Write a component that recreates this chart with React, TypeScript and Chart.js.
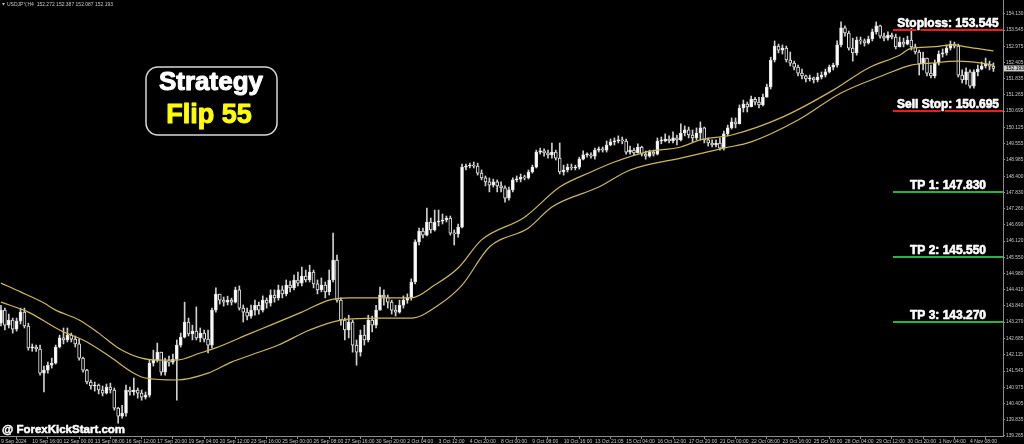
import React, { useEffect, useRef } from 'react';
import { Chart, registerables } from 'chart.js';

Chart.register(...registerables);

// ---------- DATA ----------
const firstOpen = 143.23;

const closes = [
  143.69, 143.16, 143.34, 143.02, 143.30, 143.62, 143.13, 142.36, 142.39, 142.32,
  141.47, 141.58, 141.75, 141.82, 142.39, 142.71, 142.64, 142.81, 142.67, 142.50,
  142.00, 141.58, 141.16, 141.02, 141.05, 140.88, 140.77, 140.98, 140.88, 140.24,
  139.96, 140.06, 140.88, 140.81, 140.88, 140.77, 140.63, 140.70, 141.82, 141.93,
  142.21, 141.51, 141.89, 141.86, 141.96, 142.46, 142.74, 143.27, 142.85, 142.95,
  142.71, 142.88, 142.67, 142.46, 143.69, 144.25, 144.04, 143.97, 144.04, 143.97,
  144.40, 143.76, 143.62, 143.48, 143.69, 143.86, 143.69, 144.04, 143.93, 144.22,
  144.12, 144.40, 144.26, 144.57, 144.47, 144.75, 144.64, 144.89, 144.75, 145.03,
  144.61, 144.40, 144.57, 144.33, 144.75, 145.45, 144.04, 143.34, 142.99, 143.27,
  142.46, 142.21, 142.81, 142.64, 143.34, 143.16, 143.69, 144.22, 144.15, 143.97,
  143.69, 143.62, 143.86, 144.04, 144.12, 144.68, 146.09, 146.47, 146.33, 146.79,
  146.51, 146.79, 146.82, 146.86, 146.93, 146.40, 146.37, 146.61, 148.72, 148.76,
  148.79, 148.76, 148.51, 148.34, 148.20, 148.09, 148.20, 148.06, 147.99, 147.63,
  147.92, 148.27, 148.30, 148.37, 148.34, 148.55, 148.72, 149.25, 149.29, 149.22,
  149.15, 149.25, 149.04, 148.55, 148.62, 148.72, 148.69, 148.72, 149.00, 149.15,
  149.15, 149.11, 149.32, 149.36, 149.32, 149.50, 149.61, 149.64, 149.68, 149.64,
  149.25, 149.32, 149.22, 149.43, 149.18, 149.11, 149.25, 149.18, 149.64, 149.64,
  149.71, 149.64, 149.75, 149.68, 149.92, 150.03, 149.85, 149.75, 149.92, 150.10,
  149.68, 149.57, 149.50, 149.57, 149.39, 149.89, 150.10, 150.31, 150.24, 150.80,
  150.94, 150.84, 151.11, 151.01, 150.91, 151.18, 151.54, 152.49, 152.98, 152.84,
  152.91, 152.49, 152.38, 152.24, 152.03, 151.93, 151.82, 151.86, 151.79, 151.89,
  151.96, 152.07, 152.24, 152.31, 153.02, 153.62, 153.44, 152.91, 152.74, 153.19,
  153.16, 153.09, 153.23, 153.48, 153.69, 153.33, 153.26, 153.37, 153.30, 152.95,
  153.12, 153.05, 153.19, 152.95, 152.77, 152.35, 152.56, 152.03, 151.93, 152.38,
  152.70, 152.74, 152.91, 153.05, 152.98, 151.96, 151.79, 152.07, 151.57, 152.07,
  152.17, 152.28, 152.35, 152.272, 152.193,
];

const highs = [
  143.86, 143.76, 143.55, 143.41, 143.41, 143.76, 143.76, 143.23, 142.50, 142.46,
  142.46, 141.72, 141.86, 142.00, 142.46, 142.81, 143.06, 143.06, 142.88, 142.78,
  142.67, 142.04, 141.61, 141.23, 141.16, 141.09, 141.02, 141.09, 141.12, 140.95,
  140.27, 140.34, 141.05, 140.98, 141.30, 140.95, 140.88, 140.81, 141.93, 142.28,
  142.53, 142.21, 142.00, 142.07, 142.14, 142.64, 142.88, 143.97, 143.41, 143.16,
  143.80, 143.06, 142.99, 142.99, 143.76, 144.47, 144.22, 144.15, 144.18, 144.11,
  144.50, 144.54, 143.87, 143.76, 143.87, 144.04, 143.97, 144.19, 144.12, 144.40,
  144.40, 144.57, 144.54, 144.75, 144.71, 144.92, 145.03, 145.20, 145.10, 145.27,
  145.10, 144.75, 144.82, 144.68, 145.10, 146.40, 145.63, 144.12, 143.41, 143.51,
  143.34, 142.64, 142.99, 143.16, 143.51, 143.48, 143.86, 144.50, 144.40, 144.22,
  144.04, 143.86, 144.04, 144.19, 144.26, 144.79, 146.16, 146.58, 146.58, 147.28,
  146.93, 147.21, 147.21, 147.07, 147.00, 147.00, 146.51, 146.72, 148.83, 148.83,
  148.86, 148.90, 148.86, 148.62, 148.41, 148.34, 148.30, 148.27, 148.20, 148.06,
  148.02, 148.34, 148.41, 148.48, 148.44, 148.62, 148.79, 149.32, 149.39, 149.36,
  149.32, 149.57, 149.32, 149.57, 148.79, 148.83, 148.83, 148.79, 149.07, 149.29,
  149.22, 149.22, 149.39, 149.43, 149.43, 149.64, 149.71, 149.75, 149.82, 149.78,
  149.71, 149.46, 149.39, 149.54, 149.46, 149.29, 149.32, 149.32, 149.75, 149.78,
  149.89, 149.82, 149.96, 149.85, 150.24, 150.17, 150.13, 150.03, 150.10, 150.31,
  150.13, 149.75, 149.68, 149.68, 149.75, 149.99, 150.20, 150.45, 150.45, 150.91,
  151.08, 151.01, 151.22, 151.18, 151.18, 151.29, 151.64, 152.59, 153.16, 153.05,
  153.02, 152.98, 152.77, 152.45, 152.31, 152.17, 151.96, 151.96, 151.89, 152.03,
  152.07, 152.17, 152.31, 152.38, 153.16, 153.83, 153.69, 153.51, 153.26, 153.30,
  153.30, 153.23, 153.33, 153.58, 153.83, 153.72, 153.44, 153.48, 153.44, 153.40,
  153.30, 153.26, 153.33, 153.72, 153.05, 152.84, 152.77, 152.49, 152.31, 152.49,
  152.81, 152.88, 153.02, 153.16, 153.12, 153.05, 152.14, 152.21, 152.14, 152.14,
  152.31, 152.42, 152.56, 152.45, 152.387,
];

const lows = [
  143.13, 142.99, 143.06, 142.88, 142.95, 143.20, 143.06, 142.28, 142.24, 142.24,
  141.40, 140.81, 141.47, 141.65, 141.79, 142.36, 142.50, 142.57, 142.57, 142.39,
  141.93, 141.51, 141.09, 140.91, 140.84, 140.74, 140.67, 140.74, 140.77, 140.17,
  139.71, 139.89, 139.96, 140.70, 140.70, 140.59, 140.52, 140.56, 140.63, 141.72,
  141.86, 141.40, 141.40, 141.72, 141.79, 140.52, 142.39, 142.71, 142.78, 142.64,
  142.64, 142.57, 142.57, 142.18, 142.36, 143.62, 143.90, 143.83, 143.87, 143.87,
  143.94, 143.69, 143.27, 143.34, 143.41, 143.51, 143.55, 143.62, 143.76, 143.83,
  143.97, 144.04, 144.12, 144.19, 144.33, 144.40, 144.54, 144.54, 144.68, 144.68,
  144.47, 144.26, 144.33, 144.12, 144.22, 144.68, 143.97, 143.16, 142.64, 142.71,
  142.21, 141.75, 142.07, 142.46, 142.57, 142.92, 143.06, 143.80, 143.86, 143.76,
  143.55, 143.48, 143.58, 143.76, 143.93, 144.04, 144.61, 145.98, 146.23, 146.30,
  146.40, 146.47, 146.65, 146.72, 146.79, 146.33, 145.98, 146.26, 146.58, 148.62,
  148.69, 148.69, 148.44, 148.27, 148.06, 147.85, 148.02, 147.85, 147.85, 147.49,
  147.56, 147.85, 148.20, 148.20, 148.27, 148.30, 148.51, 148.69, 149.18, 149.11,
  149.04, 149.04, 148.97, 148.48, 148.44, 148.55, 148.62, 148.62, 148.65, 148.97,
  149.07, 149.04, 149.00, 149.25, 149.25, 149.25, 149.47, 149.50, 149.57, 149.54,
  149.18, 149.18, 149.15, 149.25, 149.11, 149.00, 149.07, 149.11, 149.15, 149.54,
  149.61, 149.57, 149.57, 149.50, 149.64, 149.82, 149.75, 149.61, 149.68, 149.68,
  149.57, 149.46, 149.43, 149.43, 149.32, 149.32, 149.82, 150.06, 150.10, 150.24,
  150.66, 150.66, 150.84, 150.91, 150.80, 150.87, 151.18, 151.47, 152.42, 152.74,
  152.70, 152.42, 152.28, 152.14, 151.93, 151.82, 151.72, 151.75, 151.68, 151.72,
  151.82, 151.89, 152.03, 152.14, 152.24, 152.95, 153.33, 152.84, 152.45, 152.66,
  153.05, 152.98, 153.05, 153.16, 153.40, 153.26, 153.16, 153.19, 153.23, 152.88,
  152.98, 152.95, 153.02, 152.84, 152.70, 151.96, 152.14, 151.93, 151.86, 151.86,
  152.31, 152.59, 152.66, 152.84, 152.91, 151.89, 151.68, 151.64, 151.50, 151.50,
  151.93, 152.14, 152.21, 152.14, 152.087,
];

// moving-average envelope (bar index, price) read at sample points
const upperMaBars = [0, 5, 11, 14, 20, 25, 30, 36, 41, 45, 51, 55, 64, 69, 77, 84, 89, 97, 105, 111, 117, 123, 134, 143, 151, 157, 165, 174, 179, 187, 200, 213, 222, 230, 233, 238, 244, 247, 254];
const upperMaVals = [144.64, 144.33, 143.94, 143.69, 143.34, 142.88, 142.36, 142.00, 141.93, 141.93, 142.18, 142.36, 142.88, 143.16, 143.62, 144.04, 144.12, 144.12, 144.12, 144.57, 145.17, 146.16, 146.96, 148.02, 148.55, 148.90, 149.25, 149.43, 149.68, 149.85, 150.48, 151.43, 152.21, 152.66, 152.91, 152.95, 153.02, 152.95, 152.81];
const lowerMaBars = [0, 7, 15, 22, 28, 34, 37, 45, 53, 59, 64, 71, 79, 87, 97, 105, 112, 118, 125, 135, 141, 153, 161, 174, 185, 192, 204, 215, 226, 233, 238, 245, 251, 254];
const lowerMaVals = [143.97, 143.62, 142.99, 142.57, 142.04, 141.47, 141.30, 141.23, 141.47, 141.86, 142.11, 142.46, 142.99, 143.34, 143.41, 143.41, 143.87, 144.57, 145.91, 146.58, 147.32, 148.02, 148.62, 149.04, 149.39, 149.61, 150.38, 151.33, 151.96, 152.31, 152.38, 152.45, 152.38, 152.31];

const xTickLabels = [
  '9 Sep 2024', '10 Sep 16:00', '12 Sep 00:00', '13 Sep 08:00', '16 Sep 12:00', '17 Sep 20:00',
  '19 Sep 04:00', '20 Sep 12:00', '23 Sep 16:00', '25 Sep 00:00', '26 Sep 08:00', '27 Sep 16:00',
  '30 Sep 20:00', '2 Oct 04:00', '3 Oct 12:00', '4 Oct 20:00', '8 Oct 00:00', '9 Oct 08:00',
  '10 Oct 16:00', '13 Oct 21:05', '15 Oct 04:00', '16 Oct 12:00', '17 Oct 20:00', '21 Oct 00:00',
  '22 Oct 08:00', '23 Oct 16:00', '25 Oct 00:00', '28 Oct 04:00', '29 Oct 12:00', '30 Oct 20:00',
  '1 Nov 04:00', '4 Nov 08:00',
];
const barsPerXTick = 8;

const yTickValues = [
  154.130, 153.545, 152.975, 152.405, 151.835, 151.265, 150.695, 150.125, 149.555,
  148.985, 148.400, 147.830, 147.260, 146.690, 146.120, 145.550, 144.980, 144.410,
  143.840, 143.270, 142.685, 142.115, 141.545, 140.975, 140.405, 139.835, 139.265,
];

const levelLabels = ['Stoploss: 153.545', 'Sell Stop: 150.695', 'TP 1: 147.830', 'TP 2: 145.550', 'TP 3: 143.270'];
const levelPrices = [153.545, 150.695, 147.830, 145.550, 143.270];
const levelKinds = ['stop', 'stop', 'tp', 'tp', 'tp'];

const headerText = 'USDJPY,H4  152.272 152.387 152.087 152.193';
const currentPrice = 152.193;
const titleLine1 = 'Strategy';
const titleLine2 = 'Flip 55';
const watermark = '@ ForexKickStart.com';

// ---------- STYLE ----------
const AXIS_COLOR = '#8c8c8c';
const TEXT_COLOR = '#c8c8c8';
const MA_COLOR = '#cdb85a';
const RED = '#ec1c24';
const GREEN = '#24b440';
const FONT = "'Liberation Sans', Arial, sans-serif";
const NARROW = "'Liberation Sans Narrow', 'Liberation Sans', Arial, sans-serif";

export default function App() {
  const ref = useRef<HTMLCanvasElement>(null);

  useEffect(() => {
    document.body.style.margin = '0';
    document.body.style.background = '#000';
    const canvas = ref.current;
    if (!canvas) return;

    const opens = closes.map((_, i) => (i === 0 ? firstOpen : closes[i - 1]));
    const bodies = closes.map((c, i) => ({ x: i, y: [opens[i], c] }));
    const wicks = closes.map((c, i) => ({
      x: i,
      y: [Math.min(lows[i], opens[i], c), Math.max(highs[i], opens[i], c)],
    }));
    const upper = upperMaBars.map((b, i) => ({ x: b, y: upperMaVals[i] }));
    const lower = lowerMaBars.map((b, i) => ({ x: b, y: lowerMaVals[i] }));

    const bgPlugin = {
      id: 'bg',
      beforeDraw(chart: any) {
        const c = chart.ctx;
        c.save();
        c.fillStyle = '#000';
        c.fillRect(0, 0, chart.width, chart.height);
        c.restore();
      },
    };

    const heavyText = (c: CanvasRenderingContext2D, t: string, x: number, y: number, color: string, w: number) => {
      c.lineJoin = 'round';
      c.lineWidth = w + 2;
      c.strokeStyle = '#000';
      c.strokeText(t, x, y);
      c.lineWidth = w;
      c.strokeStyle = color;
      c.strokeText(t, x, y);
      c.fillStyle = color;
      c.fillText(t, x, y);
    };

    const overlayPlugin = {
      id: 'overlay',
      afterDraw(chart: any) {
        const c: CanvasRenderingContext2D = chart.ctx;
        const ys = chart.scales.y;
        const area = chart.chartArea;
        c.save();

        // level lines and labels
        levelPrices.forEach((p, k) => {
          const y = Math.round(ys.getPixelForValue(p));
          c.fillStyle = levelKinds[k] === 'stop' ? RED : GREEN;
          c.fillRect(893, y - 1, area.right - 893, 2);
          c.font = `bold 12px ${FONT}`;
          c.textAlign = 'center';
          c.textBaseline = 'alphabetic';
          heavyText(c, levelLabels[k], 948, y - 3, '#ffffff', 0.6);
        });

        // strategy box
        const bx = 146, by = 67, bw = 131, bh = 68, r = 12;
        c.beginPath();
        c.moveTo(bx + r, by);
        c.arcTo(bx + bw, by, bx + bw, by + bh, r);
        c.arcTo(bx + bw, by + bh, bx, by + bh, r);
        c.arcTo(bx, by + bh, bx, by, r);
        c.arcTo(bx, by, bx + bw, by, r);
        c.closePath();
        c.fillStyle = '#000';
        c.fill();
        c.lineWidth = 1.5;
        c.strokeStyle = '#d8d8d8';
        c.stroke();
        c.textAlign = 'center';
        c.font = `bold 26px ${FONT}`;
        heavyText(c, titleLine1, 211, 90, '#ffffff', 1);
        c.font = `bold 27px ${FONT}`;
        heavyText(c, titleLine2, 209, 123, '#ffff00', 1);

        // watermark
        c.textAlign = 'left';
        c.font = `bold 11.5px ${FONT}`;
        heavyText(c, watermark, 2, 433, '#ffffff', 0.5);

        // header
        c.fillStyle = TEXT_COLOR;
        c.beginPath();
        c.moveTo(2, 3);
        c.lineTo(5, 3);
        c.lineTo(3.5, 5.5);
        c.closePath();
        c.fill();
        c.font = `5px ${FONT}`;
        c.textBaseline = 'middle';
        c.fillText(headerText, 7, 4.5);

        // current price box
        const py = ys.getPixelForValue(currentPrice);
        c.fillStyle = '#c8c8c8';
        c.fillRect(area.right + 1, py - 3, 20, 6);
        c.fillStyle = '#000';
        c.font = `5px ${FONT}`;
        c.fillText(currentPrice.toFixed(3), area.right + 3, py);
        c.restore();
      },
    };

    const chart = new Chart(canvas, {
      type: 'bar',
      data: {
        datasets: [
          {
            type: 'line',
            data: upper,
            borderColor: MA_COLOR,
            borderWidth: 1.2,
            pointRadius: 0,
            cubicInterpolationMode: 'monotone',
            order: 1,
          } as any,
          {
            type: 'line',
            data: lower,
            borderColor: MA_COLOR,
            borderWidth: 1.2,
            pointRadius: 0,
            cubicInterpolationMode: 'monotone',
            order: 1,
          } as any,
          {
            type: 'bar',
            data: bodies,
            backgroundColor: (ctx: any) => {
              const d = ctx.raw;
              return d && d.y[1] >= d.y[0] ? '#ffffff' : '#000000';
            },
            borderColor: '#e6e6e6',
            borderWidth: 1,
            borderSkipped: false,
            barThickness: 3,
            minBarLength: 1,
            grouped: false,
            order: 2,
          } as any,
          {
            type: 'bar',
            data: wicks,
            backgroundColor: '#cfcfcf',
            barThickness: 1,
            grouped: false,
            order: 3,
          } as any,
        ],
      },
      options: {
        responsive: false,
        animation: false,
        devicePixelRatio: 1,
        events: [],
        layout: { padding: 0 },
        plugins: { legend: { display: false }, tooltip: { enabled: false } },
        scales: {
          x: {
            type: 'linear',
            min: -0.25,
            max: 256.45,
            offset: false,
            position: 'bottom',
            afterBuildTicks: (s: any) => {
              s.ticks = xTickLabels.map((_, k) => ({ value: k * barsPerXTick }));
            },
            afterFit: (s: any) => {
              s.height = 8;
              s.paddingLeft = 0;
              s.paddingRight = 0;
            },
            ticks: {
              autoSkip: false,
              maxRotation: 0,
              minRotation: 0,
              align: 'start',
              padding: 0,
              color: TEXT_COLOR,
              font: { size: 5, family: NARROW },
              callback: (v: any) => xTickLabels[Math.round(Number(v) / barsPerXTick)] ?? '',
            },
            grid: { drawOnChartArea: false, drawTicks: true, tickLength: 3, color: AXIS_COLOR },
            border: { display: true, color: AXIS_COLOR },
          },
          y: {
            type: 'linear',
            position: 'right',
            min: 139.26,
            max: 154.601,
            afterBuildTicks: (s: any) => {
              s.ticks = yTickValues.map((v) => ({ value: v }));
            },
            afterFit: (s: any) => {
              s.width = 21;
              s.paddingTop = 0;
              s.paddingBottom = 0;
            },
            ticks: {
              autoSkip: false,
              padding: 1,
              color: TEXT_COLOR,
              font: { size: 4.8, family: FONT },
              callback: (v: any) => Number(v).toFixed(3),
            },
            grid: { drawOnChartArea: false, drawTicks: true, tickLength: 2, color: AXIS_COLOR },
            border: { display: true, color: AXIS_COLOR },
          },
        },
      } as any,
      plugins: [bgPlugin, overlayPlugin],
    });

    return () => chart.destroy();
  }, []);

  return (
    <div style={{ width: 1024, height: 444, background: '#000' }}>
      <canvas ref={ref} width={1024} height={444} style={{ display: 'block' }} />
    </div>
  );
}
